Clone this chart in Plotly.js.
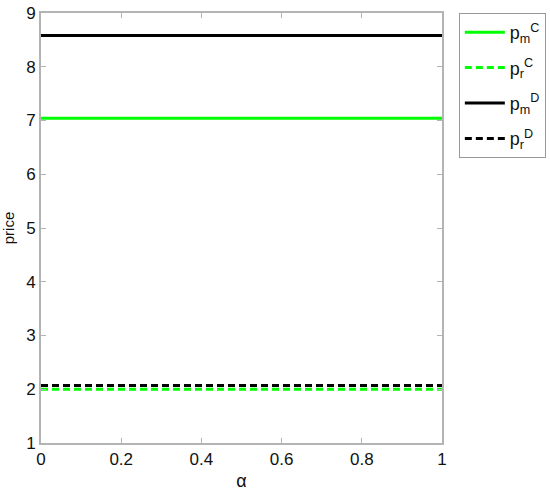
<!DOCTYPE html>
<html>
<head>
<meta charset="utf-8">
<script src="https://cdn.plot.ly/plotly-3.0.1.min.js"></script>
<style>
  body { margin: 0; background: #fff; }
  #plot { width: 550px; height: 492px; }
</style>
</head>
<body>
<div id="plot"></div>
<script>
// alpha values along the x axis
var alpha = [0, 0.2, 0.4, 0.6, 0.8, 1];

// prices (flat in alpha)
var pmC = [7.04, 7.04, 7.04, 7.04, 7.04, 7.04];
var prC = [2.0, 2.0, 2.0, 2.0, 2.0, 2.0];
var pmD = [8.58, 8.58, 8.58, 8.58, 8.58, 8.58];
var prD = [2.07, 2.07, 2.07, 2.07, 2.07, 2.07];

var names = ["p<sub>m</sub><sup>C</sup>", "p<sub>r</sub><sup>C</sup>",
             "p<sub>m</sub><sup>D</sup>", "p<sub>r</sub><sup>D</sup>"];

var green = "#00ff00";
var fontFam = "Liberation Sans";

var trace1 = { x: alpha, y: pmC, name: names[0], legendgroup: "a", mode: "lines",
  line: { color: green, width: 3 } };
var trace2 = { x: alpha, y: prC, name: names[1], legendgroup: "b", mode: "lines",
  line: { color: green, width: 3, dash: "7px,4px" } };
var trace3 = { x: alpha, y: pmD, name: names[2], legendgroup: "c", mode: "lines",
  line: { color: "#000", width: 3 } };
var trace4 = { x: alpha, y: prD, name: names[3], legendgroup: "d", mode: "lines",
  line: { color: "#000", width: 3, dash: "7px,4px" } };

var data = [trace1, trace2, trace3, trace4];

var axisStyle = {
  showgrid: false,
  zeroline: false,
  showline: true,
  mirror: "ticks",
  linecolor: "#b4b4b4",
  linewidth: 2,
  ticks: "inside",
  ticklen: 5,
  tickcolor: "#b4b4b4",
  tickfont: { family: fontFam, size: 17, color: "#111" }
};

var layout = {
  width: 550,
  height: 492,
  paper_bgcolor: "#fff",
  plot_bgcolor: "#fff",
  margin: { l: 41, r: 108, t: 13, b: 49, autoexpand: false },
  font: { family: fontFam, color: "#111" },
  xaxis: Object.assign({}, axisStyle, {
    range: [0, 1],
    tickvals: [0, 0.2, 0.4, 0.6, 0.8, 1],
    ticktext: ["0", "0.2", "0.4", "0.6", "0.8", "1"],
    title: { text: "α", font: { family: fontFam, size: 18 }, standoff: 6 }
  }),
  yaxis: Object.assign({}, axisStyle, {
    range: [1, 9],
    dtick: 1,
    title: { text: "price", font: { family: fontFam, size: 15 }, standoff: 10 }
  }),
  showlegend: true,
  legend: {
    x: 1.042,
    y: 1.0,
    xanchor: "left",
    yanchor: "top",
    bgcolor: "#fff",
    bordercolor: "#999",
    borderwidth: 1,
    font: { family: fontFam, size: 18, color: "#111" },
    traceorder: "grouped",
    tracegroupgap: 9,
    itemwidth: 40
  }
};

Plotly.newPlot("plot", data, layout, { displayModeBar: false, staticPlot: true });
</script>
</body>
</html>
